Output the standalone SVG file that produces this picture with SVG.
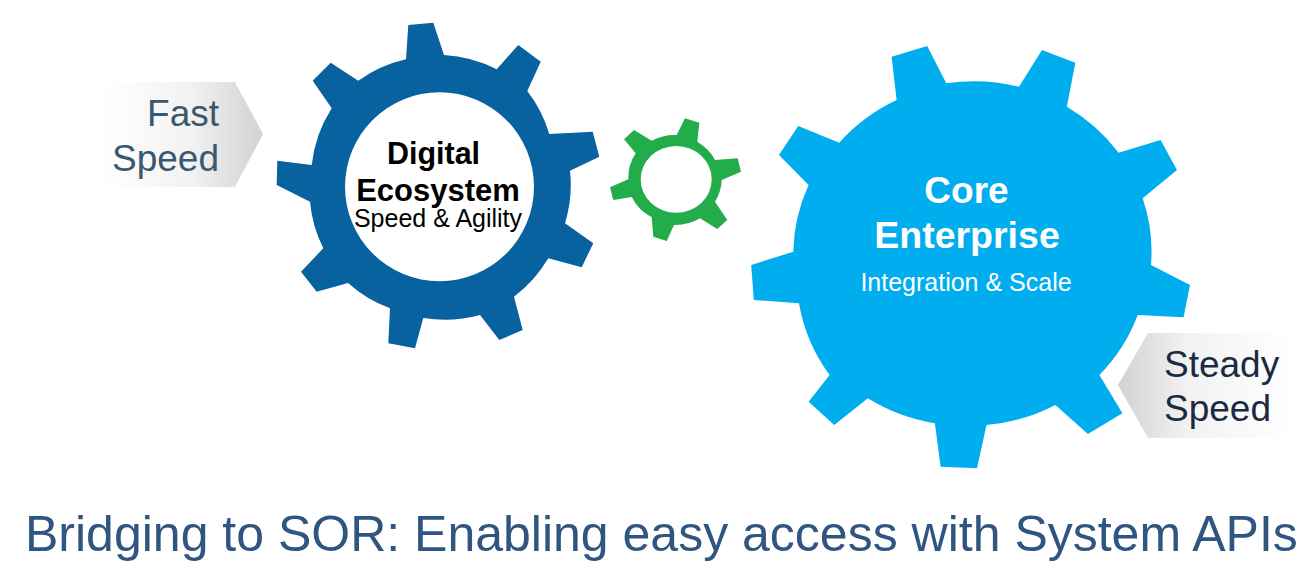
<svg xmlns="http://www.w3.org/2000/svg" width="1308" height="582" viewBox="0 0 1308 582">
<style>
text{font-family:"Liberation Sans",Arial,sans-serif}
.speed{font-size:37px}
.b{font-weight:bold}
</style>
<defs>
<linearGradient id="fadeR" x1="0" y1="0" x2="1" y2="0"><stop offset="0" stop-color="#fff"/><stop offset="0.55" stop-color="#f2f2f2"/><stop offset="1" stop-color="#d2d2d2"/></linearGradient>
<linearGradient id="fadeL" x1="0" y1="0" x2="1" y2="0"><stop offset="0" stop-color="#d2d2d2"/><stop offset="0.4" stop-color="#f2f2f2"/><stop offset="1" stop-color="#fff"/></linearGradient>
</defs>
<rect width="1308" height="582" fill="#fff"/>
<g id="fast-speed">
<polygon points="102,82 235,82 263,134 235,187 102,187" fill="url(#fadeR)"/>
<text class="speed" x="219" y="126" text-anchor="end" fill="#3a5870">Fast</text>
<text class="speed" x="219" y="171" text-anchor="end" fill="#3a5870">Speed</text>
</g>
<g id="steady-speed">
<polygon points="1118,385 1148,333 1292,333 1292,438 1148,438" fill="url(#fadeL)"/>
<text class="speed" x="1164" y="377" fill="#1b2a41">Steady</text>
<text class="speed" x="1164" y="421" fill="#1b2a41">Speed</text>
</g>
<g id="digital-ecosystem">
<path fill="#07629f" fill-rule="evenodd" d="M406,59.3L408.3,25L433.3,22.7L444,55A131,131 0 0 1 496.7,69.3L518.3,45L540.7,61.7L527.3,91A131,131 0 0 1 549.3,134L592.7,131.7L599.3,156.7L570,170.7A131,131 0 0 1 565,223.3L593.3,243.3L581.7,267.3L548.3,258.3A131,131 0 0 1 514,296.7L522.7,330L499.3,340L480,315A131,131 0 0 1 423.3,318L415,348.3L388.3,343.3L390,308.3A131,131 0 0 1 348,283L316.7,291.7L301,271.7L323.3,248.3A131,131 0 0 1 310,201.7L276.7,185L277.3,160.7L311.7,165A131,131 0 0 1 331.7,108.3L312.7,80.7L330.7,62.7L358.3,80.7A131,131 0 0 1 406,59.3ZM534,186.7A94.5,94.5 0 1 0 345,186.7A94.5,94.5 0 1 0 534,186.7Z"/>
<text class="b" x="433.5" y="164" text-anchor="middle" font-size="30.5" fill="#000">Digital</text>
<text class="b" x="438" y="201" text-anchor="middle" font-size="31" fill="#000">Ecosystem</text>
<text x="438" y="226.5" text-anchor="middle" font-size="25" fill="#000">Speed &amp; Agility</text>
</g>
<g id="bridge-gear">
<path fill="#22ac4a" fill-rule="evenodd" d="M676.7,135L685,118.3L699.3,122.7L697.3,141.7A47,45 0 0 1 715,160L737.7,158.3L741,171.7L721.7,180A47,45 0 0 1 715,201.7L727.3,220L717.3,229L700,218.3A47,45 0 0 1 674,225L666.7,241L653.3,236.7L651.7,217.3A47,45 0 0 1 631.7,197L613.3,200L610,187.3L628.3,179.3A47,45 0 0 1 635.7,153.3L624,139.3L634,130L651.7,140.7A47,45 0 0 1 676.7,135ZM711.7,179.4A35.5,33.4 0 1 0 640.7,179.4A35.5,33.4 0 1 0 711.7,179.4Z"/>
</g>
<g id="core-enterprise">
<path fill="#00aeef" d="M896.6,100L891.6,56.7L927.2,46L946.3,83.3A179,172 0 0 1 1019,86.7L1042,50L1075.3,62.7L1066.9,106.7A179,172 0 0 1 1118.6,152.7L1160.6,140L1177,170L1142.7,198.3A179,172 0 0 1 1151,265L1190,285L1183.6,317.3L1137.7,315A179,172 0 0 1 1099.4,375L1122.4,413.3L1087.9,434L1055.4,405A179,172 0 0 1 986.5,425L977,468.3L940.6,466.7L934.9,423.3A179,172 0 0 1 867.9,398.3L834.2,425L808.6,401.7L829.6,375A179,172 0 0 1 799,303.3L753.8,300L751.2,265L793.3,251.7A179,172 0 0 1 808.6,185L779,155L798.2,126L839.2,142.7A179,172 0 0 1 896.6,100Z"/>
<text class="b" x="966.5" y="203" text-anchor="middle" font-size="37" fill="#fff">Core</text>
<text class="b" x="967" y="248" text-anchor="middle" font-size="37.5" fill="#fff">Enterprise</text>
<text x="966" y="291" text-anchor="middle" font-size="25" fill="#fff">Integration &amp; Scale</text>
</g>
<g id="title">
<text x="25" y="551" font-size="50" fill="#2f5580">Bridging to SOR: Enabling easy access with System APIs</text>
</g>
</svg>
